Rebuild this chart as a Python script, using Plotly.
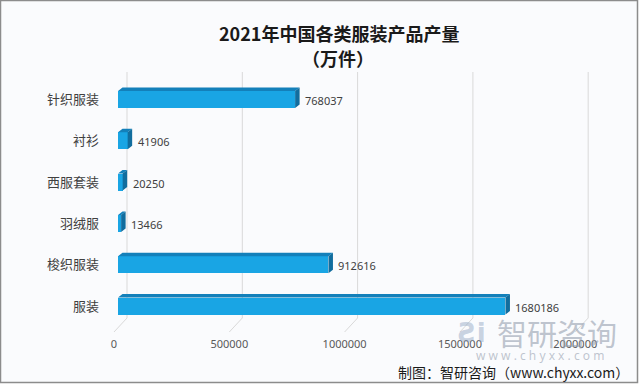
import plotly.graph_objects as go

# ---------------- data ----------------
categories = ["服装", "梭织服装", "羽绒服", "西服套装", "衬衫", "针织服装"]
values = [1680186, 912616, 13466, 20250, 41906, 768037]
x_ticks = [0, 500000, 1000000, 1500000, 2000000]
x_tick_labels = ["0", "500000", "1000000", "1500000", "2000000"]
title_line1 = "2021年中国各类服装产品产量"
title_line2 = "（万件）"
source_text = "制图：智研咨询（www.chyxx.com）"
watermark_main = "智研咨询"
watermark_sub = "w w w . c h y x x . c o m"

# ---------------- geometry ----------------
W, H = 640, 384
Z = 118                      # pixel of value 0 on front plane
K = 461.2 / 2000000          # pixels per unit
PL, PR = 104, 604            # plot area pixels (x)
T, B = 60, 334               # plot area pixels (y)
Y0, DY = 306, 41.3           # pixel centre of first category, spacing

xr = [(PL - Z) / K, (PR - Z) / K]
yr = [(Y0 - B) / DY, (Y0 - T) / DY]


def dx(px):
    return px / K


def ypx(py):
    return (Y0 - py) / DY


def paper_x(px):
    return (px - PL) / (PR - PL)


def paper_y(py):
    return (B - py) / (B - T)


pos = list(range(len(categories)))
bw = 17 / DY
ddx, ddy = dx(4.5), 3.5 / DY

FRONT = "#19A5E4"
TOP = "#1380BA"
SIDE = "#116D9E"
GRID = "#D9D9D9"

fig = go.Figure()

# front faces
fig.add_trace(go.Bar(x=values, y=pos, orientation="h", width=bw, base=0,
                     marker=dict(color=FRONT, line=dict(width=0)), showlegend=False))

# top faces
tx, ty = [], []
for p, v in zip(pos, values):
    yt = p + bw / 2
    tx += [0, v, v + ddx, ddx, 0, None]
    ty += [yt, yt, yt + ddy, yt + ddy, yt, None]
fig.add_trace(go.Scatter(x=tx, y=ty, mode="lines", fill="toself", fillcolor=TOP,
                         line=dict(width=0, color=TOP), hoverinfo="skip", showlegend=False))

# side faces
sx, sy = [], []
for p, v in zip(pos, values):
    yb, yt = p - bw / 2, p + bw / 2
    sx += [v, v + ddx, v + ddx, v, v, None]
    sy += [yb, yb + ddy, yt + ddy, yt, yb, None]
fig.add_trace(go.Scatter(x=sx, y=sy, mode="lines", fill="toself", fillcolor=SIDE,
                         line=dict(width=0, color=SIDE), hoverinfo="skip", showlegend=False))

annotations = []
for p, v in zip(pos, values):
    annotations.append(dict(x=v, y=p, xref="x", yref="y", text=str(v), showarrow=False,
                            xanchor="left", yanchor="middle", xshift=8, yshift=-1,
                            font=dict(size=11, color="#404040", family="Noto Sans, Noto Sans CJK SC")))

annotations += [
    dict(x=paper_x(339), y=paper_y(33), xref="paper", yref="paper", text="<b>" + title_line1 + "</b>",
         showarrow=False, xanchor="center", yanchor="middle",
         font=dict(size=18, color="#1a1a1a", family="Noto Sans CJK SC")),
    dict(x=paper_x(338), y=paper_y(58), xref="paper", yref="paper", text="<b>" + title_line2 + "</b>",
         showarrow=False, xanchor="center", yanchor="middle",
         font=dict(size=18, color="#1a1a1a", family="Noto Sans CJK SC")),
    dict(x=paper_x(472), y=paper_y(333), xref="paper", yref="paper", text="<b>Ƨi</b>",
         showarrow=False, xanchor="center", yanchor="middle",
         font=dict(size=26, color="rgba(140,160,190,0.45)", family="DejaVu Sans")),
    dict(x=paper_x(557), y=paper_y(332), xref="paper", yref="paper", text=watermark_main,
         showarrow=False, xanchor="center", yanchor="middle",
         font=dict(size=30, color="rgba(150,160,175,0.6)", family="Noto Sans CJK SC")),
    dict(x=paper_x(540), y=paper_y(355), xref="paper", yref="paper", text=watermark_sub,
         showarrow=False, xanchor="center", yanchor="middle",
         font=dict(size=12, color="rgba(150,160,175,0.6)", family="Noto Sans")),
    dict(x=paper_x(631), y=paper_y(372), xref="paper", yref="paper", text=source_text,
         showarrow=False, xanchor="right", yanchor="middle",
         font=dict(size=14, color="#1a1a1a", family="Noto Sans CJK SC")),
]

shapes = [
    dict(type="rect", xref="paper", yref="paper", x0=paper_x(0.5), x1=paper_x(637.5),
         y0=paper_y(0.5), y1=paper_y(382.5), line=dict(color="#8C8C8C", width=1.5),
         fillcolor="#FAFBFD", layer="below"),
]
# gridlines (back plane + floor diagonals), behind the bars
for t in x_ticks:
    bx = t + dx(9)
    shapes.append(dict(type="path", xref="x", yref="y", layer="below",
                       path=f"M {bx},{ypx(72)} L {bx},{ypx(318)} L {t + dx(-4)},{ypx(332)}",
                       line=dict(color=GRID, width=1)))

fig.update_layout(
    width=W, height=H,
    margin=dict(l=PL, r=W - PR, t=T, b=H - B, autoexpand=False),
    paper_bgcolor="white", plot_bgcolor="rgba(0,0,0,0)",
    bargap=0,
    xaxis=dict(range=xr, tickvals=x_ticks, ticktext=x_tick_labels, showgrid=False, zeroline=False,
               showline=False, ticks="", ticklabelshift=-4, ticklabelstandoff=2,
               tickfont=dict(size=11, color="#595959", family="Noto Sans, Noto Sans CJK SC"),
               fixedrange=True),
    yaxis=dict(range=yr, tickvals=pos, ticktext=categories, showgrid=False, zeroline=False,
               showline=False, ticks="", ticklabelstandoff=4,
               tickfont=dict(size=13, color="#404040", family="Noto Sans CJK SC"),
               fixedrange=True),
    annotations=annotations,
    shapes=shapes,
    showlegend=False,
)

fig.write_html("out.html", config={"displayModeBar": False},
               post_script="document.body.style.margin='0';document.body.style.overflow='hidden';")
